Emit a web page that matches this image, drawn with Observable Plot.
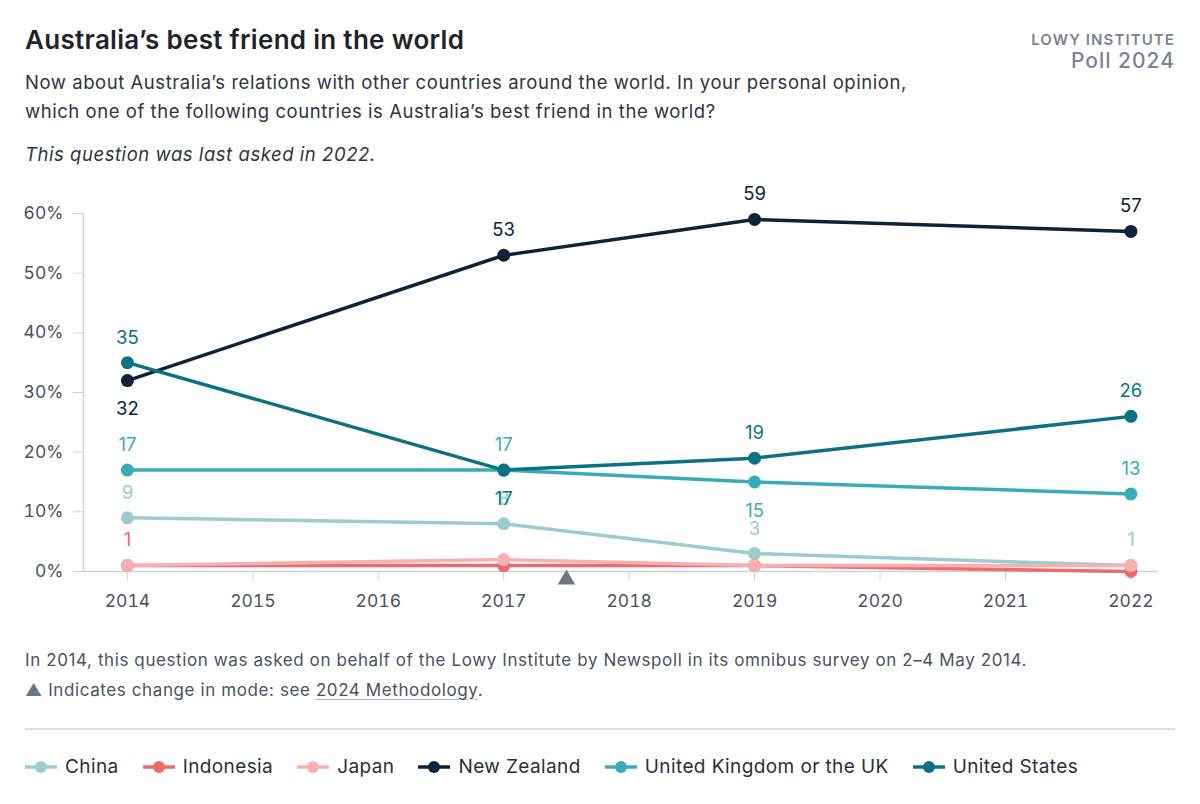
<!DOCTYPE html>
<html>
<head>
<meta charset="utf-8">
<script src="https://cdn.jsdelivr.net/npm/d3@7"></script>
<script src="https://cdn.jsdelivr.net/npm/@observablehq/plot@0.6"></script>
<style>
  html, body { margin: 0; padding: 0; background: #fff; }
  body { width: 1200px; height: 804px; font-family: Inter, "Noto Sans", sans-serif; color: #2b2f36; position: relative; overflow: hidden; }
  .title { position: absolute; left: 25px; top: 24px; font-size: 26px; font-weight: 600; color: #1f2329; letter-spacing: 0.3px; }
  .brand { position: absolute; right: 25px; top: 31px; text-align: right; color: #7b8493; }
  .brand .b1 { font-size: 15px; font-weight: 600; letter-spacing: 1.1px; line-height: 18px; }
  .brand .b2 { font-size: 21px; font-weight: 500; line-height: 24px; letter-spacing: 1px; }
  .sub { position: absolute; left: 25px; top: 68px; font-size: 18.5px; line-height: 29px; color: #30353c; letter-spacing: 0.55px; }
  .note { position: absolute; left: 25px; top: 143px; font-size: 18.5px; font-style: italic; color: #30353c; letter-spacing: 0.55px; }
  #chart { position: absolute; left: 0; top: 180px; }
  .foot { position: absolute; left: 25px; top: 645px; font-size: 17px; line-height: 30px; color: #4a5260; letter-spacing: 0.6px; }
  .foot u { text-decoration-color: #aab2bd; text-underline-offset: 3px; }
  .rule { position: absolute; left: 25px; right: 25px; top: 728px; border-top: 2px solid #dde1e5; }
  .legend { position: absolute; left: 25px; top: 755px; display: flex; gap: 24px; font-size: 19px; color: #2b2f36; letter-spacing: 0.4px; }
  .legend span.item { display: flex; align-items: center; gap: 8px; }
</style>
</head>
<body>
<div class="title">Australia’s best friend in the world</div>
<div class="brand"><div class="b1">LOWY INSTITUTE</div><div class="b2">Poll 2024</div></div>
<div class="sub">Now about Australia’s relations with other countries around the world. In your personal opinion,<br>which one of the following countries is Australia’s best friend in the world?</div>
<div class="note">This question was last asked in 2022.</div>
<div id="chart"></div>
<div class="foot">In 2014, this question was asked on behalf of the Lowy Institute by Newspoll in its omnibus survey on 2–4 May 2014.<br><span style="color:#6b7585">▲</span> Indicates change in mode: see <u>2024 Methodology</u>.</div>
<div class="rule"></div>
<div class="legend" id="legend"></div>
<script>
const years = [2014, 2017, 2019, 2022];
const seriesNames = ["China", "Indonesia", "Japan", "New Zealand", "United Kingdom or the UK", "United States"];
const seriesColors = ["#9ccbd0", "#ef6a6d", "#f7b0b0", "#0c2338", "#3aacb3", "#0a7282"];
const china = [9, 8, 3, 1];
const indonesia = [1, 1, 1, 0];
const japan = [1, 2, 1, 1];
const newZealand = [32, 53, 59, 57];
const unitedKingdom = [17, 17, 15, 13];
const unitedStates = [35, 17, 19, 26];
// label side for each value: "a" above, "b" below, "" none
const chinaLabels = ["a", "a", "a", "a"];
const indonesiaLabels = ["a", "", "", ""];
const japanLabels = ["", "", "", ""];
const newZealandLabels = ["b", "a", "a", "a"];
const unitedKingdomLabels = ["a", "a", "b", "a"];
const unitedStatesLabels = ["a", "b", "a", "a"];
const yTicks = [0, 10, 20, 30, 40, 50, 60];
const xTicks = [2014, 2015, 2016, 2017, 2018, 2019, 2020, 2021, 2022];
const modeChange = [2017.5];

const allValues = [china, indonesia, japan, newZealand, unitedKingdom, unitedStates];
const allLabels = [chinaLabels, indonesiaLabels, japanLabels, newZealandLabels, unitedKingdomLabels, unitedStatesLabels];
const data = [];
seriesNames.forEach((s, i) => years.forEach((y, j) => data.push({series: s, year: y, value: allValues[i][j], label: allLabels[i][j]})));
const color = {domain: seriesNames, range: seriesColors};

const textColor = "#4a5260";
const axisColor = "#ccd3da";
const chart = Plot.plot({
  width: 1200,
  height: 440,
  marginLeft: 83,
  marginRight: 42,
  marginTop: 33,
  marginBottom: 49,
  style: {fontFamily: "Inter, 'Noto Sans', sans-serif", background: "transparent", overflow: "visible"},
  x: {domain: [2013.65, 2022.22]},
  y: {domain: [0, 60]},
  color,
  marks: [
    Plot.ruleX([2013.65], {y1: 0, y2: 60, stroke: axisColor, strokeWidth: 1.5}),
    Plot.ruleY([0], {stroke: axisColor, strokeWidth: 1.5}),
    Plot.axisY(yTicks, {tickSize: 10, tickPadding: 10, stroke: axisColor, fill: textColor, fontSize: 17.5, tickFormat: d => d + "%", label: null}),
    Plot.axisX(xTicks, {tickSize: 9, tickPadding: 14, stroke: axisColor, fill: textColor, fontSize: 17.5, tickFormat: d => String(d), label: null}),
    Plot.line(data, {x: "year", y: "value", z: "series", stroke: "series", strokeWidth: 3.5}),
    Plot.dot(data, {x: "year", y: "value", fill: "series", r: 6.5}),
    Plot.text(data.filter(d => d.label === "a"), {x: "year", y: "value", text: d => String(d.value), fill: "series", dy: -25, fontSize: 18.5}),
    Plot.text(data.filter(d => d.label === "b"), {x: "year", y: "value", text: d => String(d.value), fill: "series", dy: 29, fontSize: 18.5}),
    Plot.dot(modeChange, {x: d => d, frameAnchor: "bottom", dy: 8, symbol: "triangle", r: 6.5, fill: "#6b7585"})
  ]
});
document.getElementById("chart").appendChild(chart);

const legend = document.getElementById("legend");
seriesNames.forEach((s, i) => {
  const item = document.createElement("span");
  item.className = "item";
  item.innerHTML = `<svg width="32" height="14"><line x1="0" y1="7" x2="32" y2="7" stroke="${seriesColors[i]}" stroke-width="3.5"/><circle cx="16" cy="7" r="6" fill="${seriesColors[i]}"/></svg><span>${s}</span>`;
  legend.appendChild(item);
});
</script>
</body>
</html>
